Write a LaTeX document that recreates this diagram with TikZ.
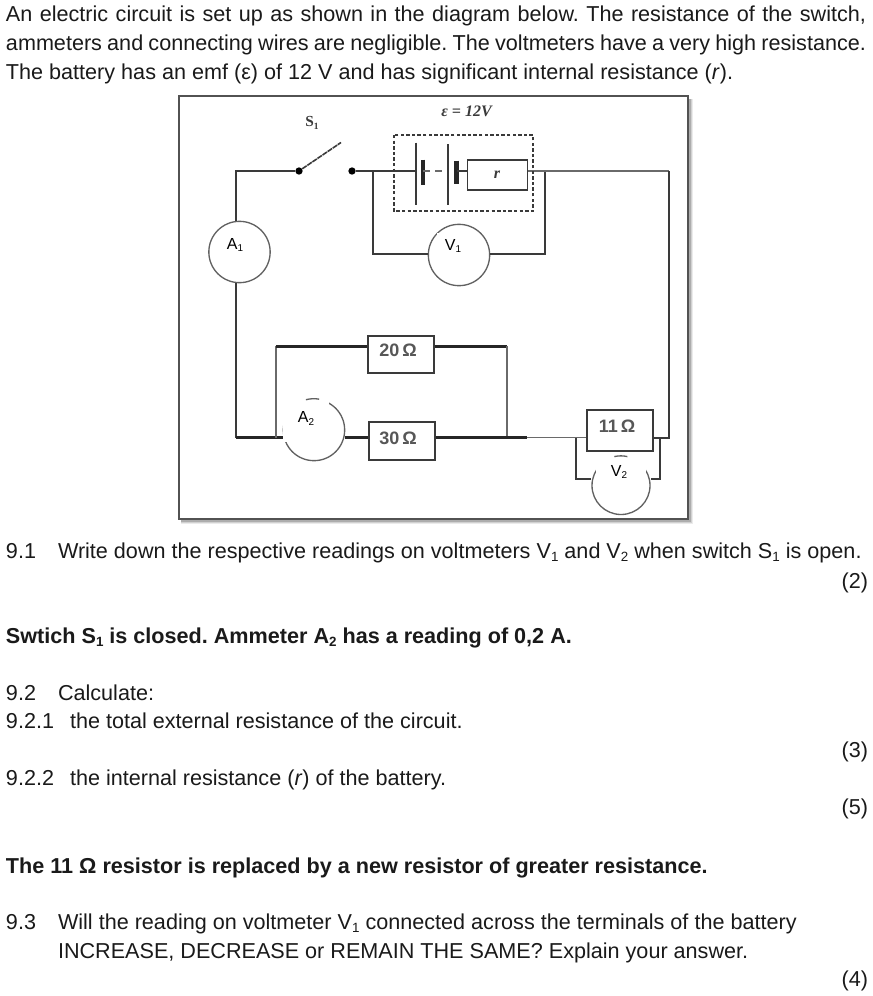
\documentclass[tikz,border=0pt]{standalone}
\usepackage{fontspec}
\setmainfont{Liberation Sans}
\newfontfamily\serifcct{Liberation Serif}
\definecolor{wire}{HTML}{3A3A3A}
\definecolor{gwire}{HTML}{6A6A6A}
\definecolor{body}{HTML}{1A1A1A}
\newcommand{\bodysize}{\fontsize{16.2pt}{19pt}\selectfont\frenchspacing}
\newcommand{\lowi}[1]{\raisebox{-.18em}{\scalebox{.62}{#1}}}
\tikzset{
  x=0.75pt,y=-0.75pt,
  line/.style={anchor=base west,inner sep=0pt,outer sep=0pt,text=body,font=\bodysize},
  rline/.style={anchor=base east,inner sep=0pt,outer sep=0pt,text=body,font=\bodysize},
  wr/.style={draw=black!85,line width=1.9pt,line join=miter},
  mid wr/.style={draw=wire,line width=1.4pt},
  thin wr/.style={draw=gwire,line width=1.3pt},
  meter/.style={circle,draw=wire!80,line width=1pt,fill=white,minimum size=46pt,inner sep=0pt},
  blob/.style={fill=white,inner sep=0pt,font=\fontsize{12pt}{14pt}\selectfont,text=black},
  res/.style={rectangle,draw=wire,line width=1.3pt,fill=white,inner sep=0pt,
    font=\fontsize{13.5pt}{15pt}\bfseries\selectfont,text=wire!85},
  dot/.style={circle,fill=black,inner sep=0pt,minimum size=5.5pt},
  cctlabel/.style={inner sep=0pt,text=wire,font=\serifcct\bfseries\fontsize{11.5pt}{13pt}\selectfont},
  cctital/.style={cctlabel,font=\serifcct\bfseries\itshape\fontsize{12pt}{14pt}\selectfont},
}
\newcommand{\jline}[1]{\hbox to 645pt{#1}}
\begin{document}
\begin{tikzpicture}
\useasboundingbox (0,0) rectangle (872,996);
\fill[white] (0,0) rectangle (872,996);
% frame with soft shadow
\fill[black!8] (181,99) rectangle (693,524);
\fill[black!18] (181,99) rectangle (692,523);
\fill[black!32] (181,99) rectangle (690.5,521.5);
\draw[draw=black!68,line width=1.8pt,fill=white] (179,96) rectangle (688,519);

% text
\node[line] (t1) at (6,21) {\jline{An electric circuit is set up as shown in the diagram below. The resistance of the switch,}};
\node[line] (t2) at (6,50) {\jline{ammeters and connecting wires are negligible. The voltmeters have a very high resistance.}};
\node[line] (t3) at (6,79) {The battery has an emf (ε) of 12 V and has significant internal resistance (\textit{r}).};
\node[line] (q91n) at (6,558) {9.1};
\node[line] (q91) at (58,558) {Write down the respective readings on voltmeters V\lowi{1} and V\lowi{2} when switch S\lowi{1} is open.};
\node[rline] (m2) at (868,588) {(2)};
\node[line] (b1) at (6,643) {\textbf{Swtich S\lowi{1} is closed. Ammeter A\lowi{2} has a reading of 0,2 A.}};
\node[line] (q92n) at (6,700) {9.2};
\node[line] (q92) at (58,700) {Calculate:};
\node[line] (q921n) at (6,728) {9.2.1};
\node[line] (q921) at (70,728) {the total external resistance of the circuit.};
\node[rline] (m3) at (868,757) {(3)};
\node[line] (q922n) at (6,785) {9.2.2};
\node[line] (q922) at (70,785) {the internal resistance (\textit{r}) of the battery.};
\node[rline] (m5) at (868,814) {(5)};
\node[line] (b2) at (6,873) {\textbf{The 11 Ω resistor is replaced by a new resistor of greater resistance.}};
\node[line] (q93n) at (6,929) {9.3};
\node[line] (q93a) at (58,929) {Will the reading on voltmeter V\lowi{1} connected across the terminals of the battery};
\node[line] (q93b) at (58,958) {INCREASE, DECREASE or REMAIN THE SAME? Explain your answer.};
\node[rline] (m4) at (868,986) {(4)};

% named points
\node[dot] (swL) at (299,171) {};
\node[dot] (swR) at (352,171) {};
\coordinate (swTip) at (341,142.5);
\coordinate (tl) at (236,171);
\coordinate (bl) at (236,437.6);
\coordinate (tr) at (669,171);
\coordinate (br) at (669,437.6);
\coordinate (jL) at (373,171);
\coordinate (jR) at (544.6,171);
\coordinate (vL) at (373,254);
\coordinate (vR) at (544.6,254);
\coordinate (pA1) at (416,171);
\coordinate (pA2) at (423,171);
\coordinate (pB1) at (448,171);
\coordinate (pB2) at (456.5,171);
\coordinate (top1) at (275.8,346.4);
\coordinate (top2) at (507,346.4);
\coordinate (low1) at (275.8,437.6);
\coordinate (low2) at (507,437.6);
\coordinate (mid1) at (527,437.6);
\coordinate (v2a) at (576,437.6);
\coordinate (v2b) at (576,479);
\coordinate (v2c) at (660,437.6);
\coordinate (v2d) at (660,479);

% components
\node[meter] (A1) at (239.5,252) {};
\node[meter] (V1) at (459,255) {};
\node[meter] (A2) at (314,430) {};
\node[meter,minimum size=43.5pt] (V2) at (621,485.5) {};
\node[res,minimum width=45pt,minimum height=22.5pt] (Rint) at (497.6,175) {};
\node[res,minimum width=49.5pt,minimum height=27.5pt] (R20) at (401,354.5) {};
\node[res,minimum width=49.5pt,minimum height=29pt] (R30) at (402,441) {};
\node[res,minimum width=49.5pt,minimum height=30.5pt] (R11) at (620,430.5) {};

% wires
\draw[mid wr] (swL) -| (A1.north -| tl);
\draw[mid wr] (A1.south -| tl) -- (bl);
\draw[mid wr] (swR) -- (pA1);
\draw[mid wr] (jL) -- (vL) -- (V1.west |- vL);
\draw[mid wr] (V1.east |- vR) -- (vR) -- (jR);
\draw[thin wr] (Rint.east |- jR) -- (tr);
\draw[mid wr] (tr) -- (br) -- (R11.east |- br);
\draw[wr] (bl) -- (A2.west |- bl);
\draw[thin wr] (low1) -- (top1);
\draw[wr] (top1) -- (R20.west |- top1);
\draw[wr] (R20.east |- top2) -- (top2);
\draw[thin wr] (top2) -- (low2);
\draw[wr] (A2.east |- low2) -- (R30.west |- low2);
\draw[wr] (R30.east |- low2) -- (mid1);
\draw[thin wr] (mid1) -- (R11.west |- low2);
\draw[mid wr] (v2a) -- (v2b) -- (V2.west |- v2b);
\draw[mid wr] (v2c) -- (v2d) -- (V2.east |- v2d);
% switch
\draw[draw=wire,line width=1.2pt,dash pattern=on 4pt off 0.6pt] (swL) -- (swTip);
% battery
\draw[draw=wire,line width=2.2pt] (416,142.5) -- (416,205);
\draw[draw=black!85,line width=3.6pt] (423,159.5) -- (423,185);
\draw[draw=gwire,line width=1pt,dash pattern=on 5pt off 4pt] (pA2) -- (pB1);
\draw[draw=wire,line width=1.2pt] (448,144) -- (448,205);
\draw[draw=black!85,line width=4pt] (456.5,160.5) -- (456.5,184);
\draw[mid wr] (pB2) -- (Rint.west |- pB2);
\draw[draw=wire,line width=1.6pt,dash pattern=on 2.6pt off 1.6pt] (394,135) rectangle (533,211);

% labels
\node[cctital] (emf) at (466.6,111) {ε = 12V};
\node[cctlabel] (S1) at (312,123) {S\lowi{1}};
\node[cctital] (rl) at (497,175) {r};
\node[res,draw=none,fill=none] (l20) at (398,350.5) {20\,Ω};
\node[res,draw=none,fill=none] (l30) at (398,438) {30\,Ω};
\node[res,draw=none,fill=none] (l11) at (617,426) {11\,Ω};
\node[blob,minimum width=24pt,minimum height=20pt] (lA1) at (235,245) {A\lowi{1}};
\node[blob,minimum width=24pt,minimum height=20pt] (lV1) at (453,246) {V\lowi{1}};
\node[blob,minimum width=34.5pt,minimum height=33pt] (lA2) at (306,420) {\raisebox{4pt}{A\lowi{2}}};
\node[blob,minimum width=38pt,minimum height=26pt] (lV2) at (621,472) {\hspace*{-3pt}\raisebox{-3pt}{V\lowi{2}}};
\draw[draw=wire!80,line width=1pt] (A2.105) arc[start angle=105,end angle=80,radius=23pt];
\draw[draw=wire!80,line width=1pt] (V2.103) arc[start angle=103,end angle=77,radius=21.75pt];
\end{tikzpicture}
\end{document}
